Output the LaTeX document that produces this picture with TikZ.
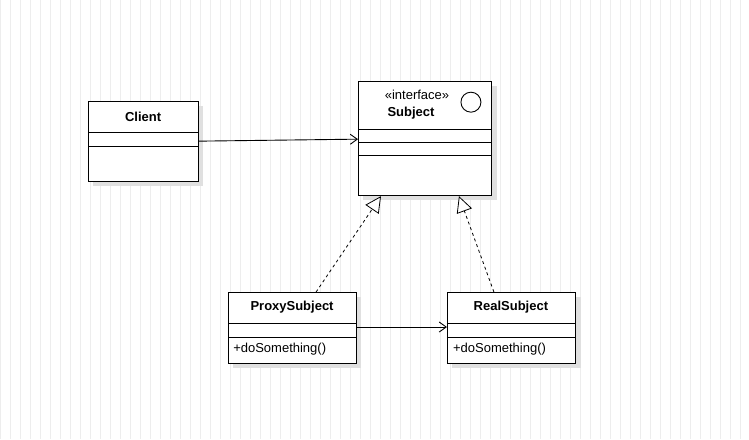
\documentclass[tikz,border=0pt]{standalone}
\usepackage{fontspec}
\setmainfont{Liberation Sans}
\usetikzlibrary{arrows.meta}
\begin{document}
\begin{tikzpicture}[x=1pt,y=-1pt,
  box/.style={draw=black,fill=white,line width=0.9pt},
  shad/.style={fill=black!12,draw=none},
  sep/.style={draw=black,line width=0.9pt},
  lab/.style={font=\fontsize{13}{15}\selectfont\bfseries,inner sep=0pt},
  op/.style={font=\fontsize{13}{15}\selectfont,inner sep=0pt},
  real/.style={dashed,line width=0.8pt,-{Triangle[open,length=16pt,width=16pt,fill=white]}},
  assoc/.style={line width=0.9pt,-{Straight Barb[length=7pt,width=10pt]}}]
\fill[white] (0,0) rectangle (749,439);
\draw[black!7,line width=0.5pt] (0,0) grid[step=10] (749,439);
\useasboundingbox (0,0) rectangle (749,439);
% shadows
\foreach \a/\b/\c/\d in {88/101/198/181, 358/81/492/195, 228/292/356/363, 447/292/576/363}
  \fill[shad] (\a+5,\b+5) rectangle (\c+5,\d+5);
% Client
\draw[box] (88,101) rectangle (198,181);
\node[lab] (client) at (143,117) {Client};
\draw[sep] (88,132) -- (198,132) (88,146) -- (198,146);
\coordinate (cr) at (198,141);
% Subject
\draw[box] (358,81) rectangle (492,195);
\node[op] (iface) at (417,95) {«interface»};
\node[lab] (subject) at (411,113) {Subject};
\draw[line width=0.9pt] (471,102) circle (10);
\draw[sep] (358,129) -- (492,129) (358,142) -- (492,142) (358,155) -- (492,155);
\coordinate (sl) at (358,139);
\coordinate (sb1) at (381,196);
\coordinate (sb2) at (459,196);
% ProxySubject
\draw[box] (228,292) rectangle (356,363);
\node[lab] (proxy) at (292,307) {ProxySubject};
\draw[sep] (228,323) -- (356,323) (228,337) -- (356,337);
\node[op,anchor=west] (pop) at (233,349) {+doSomething()};
\coordinate (pr) at (356,327);
\coordinate (pt) at (316,292);
% RealSubject
\draw[box] (447,292) rectangle (576,363);
\node[lab] (realn) at (511,307) {RealSubject};
\draw[sep] (447,323) -- (576,323) (447,337) -- (576,337);
\node[op,anchor=west] (rop) at (453,349) {+doSomething()};
\coordinate (rl) at (447,327);
\coordinate (rt) at (494,292);
% connectors
\draw[assoc] (cr) -- (sl);
\draw[assoc] (pr) -- (rl);
\draw[real] (pt) -- (sb1);
\draw[real] (rt) -- (sb2);
\end{tikzpicture}
\end{document}
